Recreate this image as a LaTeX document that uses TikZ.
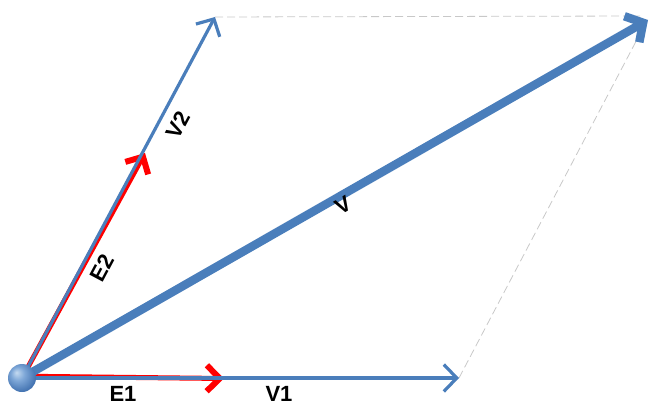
\documentclass[tikz,border=0pt]{standalone}
\usepackage{fontspec}
\setmainfont{Liberation Sans}
\usetikzlibrary{arrows.meta}
\definecolor{vblue}{HTML}{4A7EBB}
\definecolor{vred}{HTML}{FF0000}
\definecolor{dgray}{HTML}{C8C8C8}
\definecolor{ballin}{HTML}{C4DAF0}
\definecolor{ballmid}{HTML}{7FA8D8}
\definecolor{ballout}{HTML}{3F6FAE}
\pgfdeclareradialshading{myball}{\pgfpoint{-10bp}{10bp}}{%
  color(0bp)=(ballin);
  color(12bp)=(ballmid);
  color(30bp)=(ballout);
  color(50bp)=(ballout)}
\begin{document}
\begin{tikzpicture}[x=1pt,y=-1pt,
  vec/.style={draw=vblue,line width=3.2pt,-{Straight Barb[length=13pt,width=27pt]}},
  bigvec/.style={draw=vblue,line width=8.5pt,-{Straight Barb[length=13pt,width=30pt]}},
  evec/.style={draw=vred,line width=5pt,-{Straight Barb[length=13pt,width=26pt,line width=6pt]}},
  guide/.style={draw=dgray,line width=0.8pt,dash pattern=on 8pt off 4pt},
  lbl/.style={font=\bfseries\fontsize{22}{24}\selectfont,inner sep=0pt}]
\useasboundingbox (0,0) rectangle (666,409);
\coordinate (O) at (22,378);
\coordinate (A) at (459,378);
\coordinate (B) at (215,17);
\coordinate (C) at (648,20);
\coordinate (Ce) at (640,16);
\coordinate (Cf) at (642,30);
\coordinate (E1t) at (224,379);
\coordinate (E2t) at (145,153);
% guides
\draw[guide] (B) -- (Ce);
\draw[guide] (A) -- (Cf);
% red unit vectors
\draw[evec] ([yshift=1.8pt]O) -- ([yshift=0.5pt]E1t);
\draw[evec] (O) -- (E2t);
% blue vectors
\draw[vec] (O) -- (A);
\draw[vec] (O) -- (B);
\draw[bigvec] (O) -- (C);
% origin ball
\node[circle,minimum size=28pt,inner sep=0pt,shading=myball] (ball) at (O) {};
% labels
\node[lbl] (lE1) at (123,394) {E1};
\node[lbl] (lV1) at (279,394) {V1};
\node[lbl,rotate=62] (lE2) at (102,268) {E2};
\node[lbl,rotate=62] (lV2) at (178,125) {V2};
\node[lbl,rotate=30] (lV) at (343,205) {V};
\end{tikzpicture}
\end{document}
